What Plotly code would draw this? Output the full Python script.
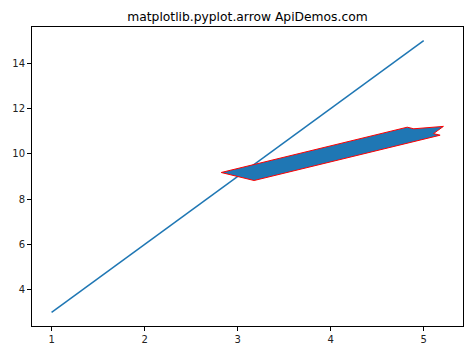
import numpy as np
import plotly.graph_objects as go

# ---- data ----
line_x = [1, 2, 3, 4, 5]
line_y = [3, 6, 9, 12, 15]

# arrow parameters (matplotlib.pyplot.arrow style)
arrow_x, arrow_y = 3, 9
arrow_dx, arrow_dy = 2, 2
arrow_width = 0.5
arrow_head_width = 0.3
arrow_head_length = 0.3

x_ticks = [1, 2, 3, 4, 5]
y_ticks = [4, 6, 8, 10, 12, 14]
title = "matplotlib.pyplot.arrow ApiDemos.com"


def fancy_arrow(x, y, dx, dy, width, head_width, head_length):
    """Replicates matplotlib FancyArrow vertex geometry (length_includes_head=False)."""
    distance = np.hypot(dx, dy)
    length = distance + head_length
    hw, hl, lw = head_width, head_length, width
    left = np.array([
        [0.0, 0.0],
        [-hl, -hw / 2],
        [-hl, -lw / 2],
        [-length, -lw / 2],
        [-length, 0],
    ])
    left += [head_length, 0]
    right = left * [1, -1]
    coords = np.concatenate([left[:-1], right[-2::-1]])
    cx, sx = dx / distance, dy / distance
    M = np.array([[cx, sx], [-sx, cx]])
    verts = coords @ M + [x + dx, y + dy]
    return verts[:, 0], verts[:, 1]


ax_x, ax_y = fancy_arrow(arrow_x, arrow_y, arrow_dx, arrow_dy,
                         arrow_width, arrow_head_width, arrow_head_length)
ax_x = np.append(ax_x, ax_x[0])
ax_y = np.append(ax_y, ax_y[0])

# matplotlib-like autoscale with 5% margins
all_x = np.concatenate([line_x, ax_x])
all_y = np.concatenate([line_y, ax_y])
xr = [all_x.min(), all_x.max()]
yr = [all_y.min(), all_y.max()]
xm = 0.05 * (xr[1] - xr[0])
ym = 0.05 * (yr[1] - yr[0])

fig = go.Figure()
fig.add_trace(go.Scatter(x=line_x, y=line_y, mode="lines",
                         line=dict(color="#1f77b4", width=1.5),
                         showlegend=False, hoverinfo="skip"))
fig.add_trace(go.Scatter(x=ax_x, y=ax_y, mode="lines", fill="toself",
                         fillcolor="#1f77b4",
                         line=dict(color="red", width=1),
                         showlegend=False, hoverinfo="skip"))

axis_common = dict(showgrid=False, zeroline=False, showline=True, mirror=True,
                   linecolor="black", linewidth=1, ticks="outside",
                   ticklen=4, tickwidth=1, tickcolor="black",
                   tickfont=dict(family="DejaVu Sans", size=10, color="#222"))

fig.update_layout(
    width=474, height=355,
    margin=dict(l=32, r=11, t=27, b=29),
    paper_bgcolor="white", plot_bgcolor="white",
    title=dict(text=title, x=(32 + 463) / 2 / 474, xanchor="center",
               y=1 - 17 / 355, yanchor="middle",
               font=dict(family="DejaVu Sans", size=12.3, color="black")),
    xaxis=dict(range=[xr[0] - xm, xr[1] + xm], tickvals=x_ticks, **axis_common),
    yaxis=dict(range=[yr[0] - ym, yr[1] + ym], tickvals=y_ticks, **axis_common),
)

fig.write_html("out.html", config={"displayModeBar": False})
